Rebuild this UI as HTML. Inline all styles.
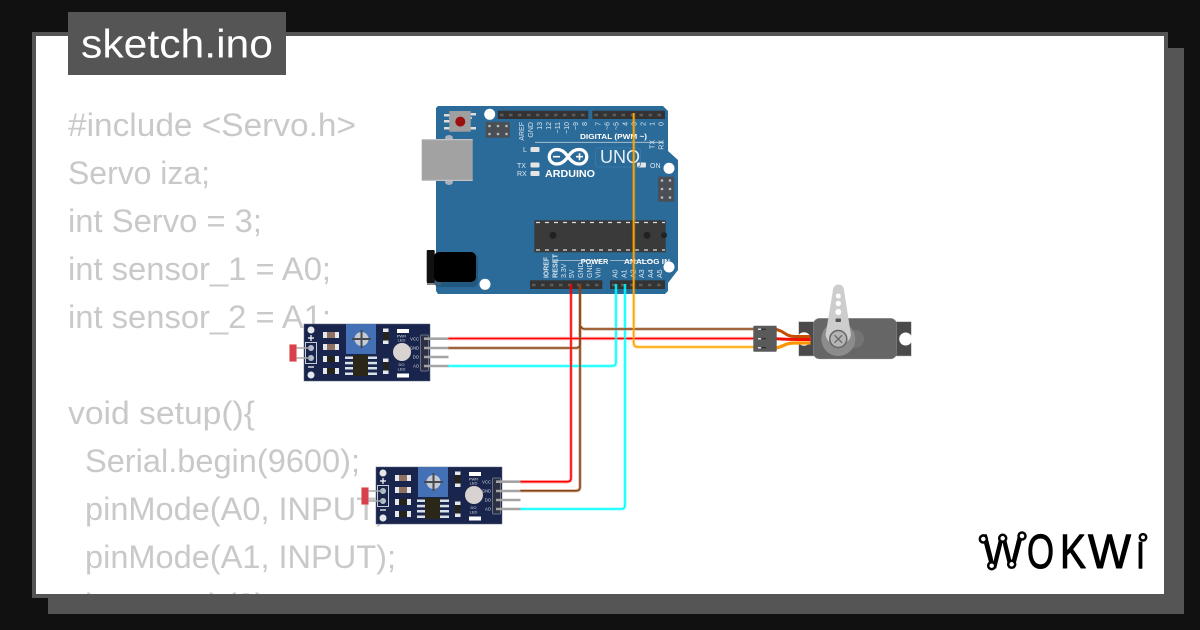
<!DOCTYPE html>
<html><head><meta charset="utf-8"><style>
html,body{margin:0;padding:0;background:#111;width:1200px;height:630px;overflow:hidden}
svg{display:block}
text{font-family:"Liberation Sans",sans-serif}
</style></head><body>
<svg width="1200" height="630" viewBox="0 0 1200 630" xmlns="http://www.w3.org/2000/svg">
<defs>
<clipPath id="pg"><rect x="36" y="36" width="1128" height="558"/></clipPath>
<g id="sensor">
 <rect x="304" y="324" width="126" height="57" fill="#19254c" stroke="#5a6480" stroke-width=".5"/>
 <circle cx="311" cy="330" r="3.500" fill="#e4e8ec"/><circle cx="311" cy="375" r="3.500" fill="#e4e8ec"/>
 <path d="M308 338h6M311 335v6M308 367h6" stroke="#fff" stroke-width="1.200"/>
 <rect x="305.500" y="342.500" width="11" height="21" fill="none" stroke="#c8ccd4" stroke-width="1"/>
 <circle cx="311" cy="348" r="3" fill="#b4c0cc"/><circle cx="311" cy="358" r="3" fill="#b4c0cc"/>
 <path d="M296 348h15M296 358h15" stroke="#a8a8a8" stroke-width="1.500"/>
 <rect x="289.500" y="344.500" width="7" height="17" fill="#d8404c" stroke="#e88" stroke-width=".4"/>
 <g fill="#e4e8ec"><rect x="323" y="332" width="16" height="6"/><rect x="323" y="344" width="16" height="6"/><rect x="323" y="356" width="16" height="6"/><rect x="323" y="368" width="16" height="6"/></g>
 <rect x="327" y="332" width="8" height="6" fill="#8f7262"/><rect x="327" y="344" width="8" height="6" fill="#8f7262"/>
 <rect x="327" y="356" width="8" height="6" fill="#26241a"/><rect x="327" y="368" width="8" height="6" fill="#26241a"/>
 <rect x="346" y="324" width="30" height="30" fill="#4470b6"/>
 <circle cx="361.500" cy="339" r="7" fill="#c4cad2"/>
 <path d="M352 339h19M361.500 330v18" stroke="#47494f" stroke-width="2"/>
 <g fill="#d8e0e8"><rect x="345" y="356.500" width="32" height="2.500"/><rect x="345" y="361.800" width="32" height="2.500"/><rect x="345" y="367" width="32" height="2.500"/><rect x="345" y="372.500" width="32" height="2.500"/></g>
 <rect x="353" y="355" width="15" height="21" fill="#2a2618"/>
 <rect x="383" y="328.500" width="5.500" height="15.500" fill="#e4e8ec"/><rect x="383" y="332" width="5.500" height="8.500" fill="#26241a"/>
 <rect x="383" y="358.500" width="5.500" height="15.500" fill="#e4e8ec"/><rect x="383" y="362" width="5.500" height="8.500" fill="#26241a"/>
 <rect x="397" y="329" width="12" height="4" fill="#fff"/><rect x="397" y="373.500" width="12" height="4" fill="#fff"/>
 <circle cx="402" cy="352" r="9" fill="#d8d2d0"/>
 <rect x="420.500" y="335" width="8" height="36" rx="1" fill="#2c3040" stroke="#68708a" stroke-width="1"/>
 <path d="M424 338.700h24.500M424 348h24.500M424 357h24.500M424 366h24.500" stroke="#a4a4a4" stroke-width="2.600"/>
</g>
</defs>

<rect x="48" y="48" width="1136" height="566" fill="#555"/>
<rect x="34" y="34" width="1132" height="562" fill="#fff" stroke="#555" stroke-width="4"/>

<g clip-path="url(#pg)" font-size="32" fill="#c9c9c9">
<text x="68" y="136" textLength="288" lengthAdjust="spacingAndGlyphs">#include &lt;Servo.h&gt;</text>
<text x="68" y="184" textLength="142" lengthAdjust="spacingAndGlyphs">Servo iza;</text>
<text x="68" y="232" textLength="194" lengthAdjust="spacingAndGlyphs">int Servo = 3;</text>
<text x="68" y="280" textLength="263" lengthAdjust="spacingAndGlyphs">int sensor_1 = A0;</text>
<text x="68" y="328" textLength="263" lengthAdjust="spacingAndGlyphs">int sensor_2 = A1;</text>
<text x="68" y="424" textLength="187" lengthAdjust="spacingAndGlyphs">void setup(){</text>
<text x="85" y="472" textLength="275" lengthAdjust="spacingAndGlyphs">Serial.begin(9600);</text>
<text x="85" y="520" textLength="311" lengthAdjust="spacingAndGlyphs">pinMode(A0, INPUT);</text>
<text x="85" y="568" textLength="311" lengthAdjust="spacingAndGlyphs">pinMode(A1, INPUT);</text>
<text x="85" y="616" textLength="190" lengthAdjust="spacingAndGlyphs">iza.attach(3);</text>
</g>

<rect x="68" y="12" width="218" height="63" fill="#555"/>
<text x="81" y="57.500" font-size="40" fill="#fff" textLength="192" lengthAdjust="spacingAndGlyphs">sketch.ino</text>

<!-- Arduino -->
<path d="M438 106H663L668 111V151L678 160V270L668 283V291L665 294H438L436 291V108Z" fill="#2b6b99"/>
<rect x="449" y="117" width="23" height="2" fill="#ccc"/><rect x="444" y="114" width="6" height="2.500" fill="#ddd"/><rect x="444" y="120" width="6" height="2.500" fill="#ddd"/><rect x="444" y="127" width="6" height="2.500" fill="#ddd"/><rect x="470" y="113" width="6" height="2.500" fill="#ddd"/><rect x="470" y="127" width="6" height="2.500" fill="#ddd"/>
<rect x="449.300" y="111" width="21.400" height="20.700" fill="#9f9f9f"/>
<circle cx="460.300" cy="121.600" r="5" fill="#9b0f0f"/>
<circle cx="489.700" cy="114.300" r="5.500" fill="#fff"/><circle cx="485" cy="284.300" r="5.500" fill="#fff"/><circle cx="669" cy="168.300" r="5.500" fill="#fff"/><circle cx="669" cy="267" r="5.500" fill="#fff"/>
<rect x="485.700" y="122" width="24.300" height="15.700" fill="#4a4f55"/>
<g fill="#bbb"><circle cx="489.500" cy="126" r="1.300"/><circle cx="498" cy="126" r="1.300"/><circle cx="506.500" cy="126" r="1.300"/><circle cx="489.500" cy="134" r="1.300"/><circle cx="498" cy="134" r="1.300"/><circle cx="506.500" cy="134" r="1.300"/></g>
<rect x="658" y="176.700" width="16.300" height="25" fill="#4a4f55"/>
<g fill="#bbb"><circle cx="662" cy="180.500" r="1.300"/><circle cx="670" cy="180.500" r="1.300"/><circle cx="662" cy="189" r="1.300"/><circle cx="670" cy="189" r="1.300"/><circle cx="662" cy="197.500" r="1.300"/><circle cx="670" cy="197.500" r="1.300"/></g>
<g fill="#333"><rect x="497.700" y="110.700" width="90.600" height="8.300"/><rect x="592.300" y="110.700" width="72.700" height="8.300"/><rect x="530" y="280.300" width="72.300" height="8.700"/><rect x="610" y="280.300" width="55" height="8.700"/></g>
<g stroke="#5c5c5c" stroke-width="2.500" stroke-dasharray="3.500 5.500"><path d="M500 115H588M594.500 115H665M532 285H602M612 285H665"/></g>
<ellipse cx="449" cy="138" rx="4" ry="3" fill="#a8b2ba"/><ellipse cx="449" cy="182" rx="4" ry="3" fill="#a8b2ba"/>
<rect x="421.700" y="139" width="51" height="42" fill="#a2a2a2"/>
<rect x="421.700" y="139" width="51" height="1.200" fill="#c4c4c4"/><rect x="421.700" y="179.800" width="51" height="1.200" fill="#c4c4c4"/>
<rect x="427" y="280" width="14" height="5" fill="#888"/>
<rect x="434" y="254" width="44" height="33" rx="5" fill="#1f4f74" opacity=".7"/>
<rect x="426.700" y="250" width="8" height="33" rx="1" fill="#111"/>
<rect x="434" y="252" width="42" height="30" rx="5" fill="#000"/>
<rect x="534.300" y="220.300" width="131.400" height="32" fill="#3a3a3a"/>
<path d="M536 222.500H665M536 250H665" stroke="#ddd" stroke-width="1.300" stroke-dasharray="4 5"/>
<circle cx="553" cy="235.300" r="3.500" fill="#222"/><circle cx="647" cy="235.300" r="3.500" fill="#222"/><circle cx="664" cy="235.300" r="3" fill="#222"/>
<g fill="#e4e4e4"><rect x="530.500" y="147" width="9" height="5" rx="1"/><rect x="530.500" y="162.500" width="9" height="5" rx="1"/><rect x="530.500" y="171" width="9" height="5" rx="1"/><rect x="637" y="162.500" width="9" height="5" rx="1"/></g>
<g fill="#dfe8ee" font-size="7">
<text x="523" y="152">L</text><text x="517" y="168">TX</text><text x="517" y="176">RX</text><text x="650" y="168">ON</text>
</g>
<path d="M535 142.300H664M553 260.500H601M610 260.500H652" stroke="#b8ccd8" stroke-width=".8" fill="none"/>
<path d="M568 156.700C564 151 561 149.500 556.500 149.500A7.250 7.250 0 0 0 556.500 164C561 164 564 162 568 156.700C572 151 575 149.500 579.500 149.500A7.250 7.250 0 0 1 579.500 164C575 164 572 162 568 156.700Z" fill="none" stroke="#fff" stroke-width="3.300"/>
<path d="M553 156.700h7M576 156.700h7M579.500 153.200v7" stroke="#fff" stroke-width="1.600"/>
<text x="545" y="177" font-size="10.500" font-weight="bold" fill="#fff" textLength="50" lengthAdjust="spacingAndGlyphs">ARDUINO</text>
<rect x="595.500" y="148" width="45" height="19" rx="3" fill="none" stroke="#3d7cab" stroke-width=".8"/>
<text x="600" y="163" font-size="18" fill="#e6eef4" textLength="40">UNO</text>
<text x="580" y="139" font-size="7.500" font-weight="bold" fill="#fff" textLength="67" lengthAdjust="spacingAndGlyphs">DIGITAL (PWM ~)</text>
<text x="580.700" y="264" font-size="7.500" font-weight="bold" fill="#fff" textLength="27.600" lengthAdjust="spacingAndGlyphs">POWER</text>
<text x="624" y="264" font-size="7.500" font-weight="bold" fill="#fff" textLength="46" lengthAdjust="spacingAndGlyphs">ANALOG IN</text>
<g fill="#dbe6ee" font-size="7" text-anchor="end">
<text transform="translate(524,122) rotate(-90)">AREF</text><text transform="translate(533,122) rotate(-90)">GND</text><text transform="translate(542,122) rotate(-90)">13</text><text transform="translate(551,122) rotate(-90)">12</text><text transform="translate(560,122) rotate(-90)">~11</text><text transform="translate(569,122) rotate(-90)">~10</text><text transform="translate(578,122) rotate(-90)">~9</text><text transform="translate(587,122) rotate(-90)">8</text>
<text transform="translate(600.500,122) rotate(-90)">7</text><text transform="translate(609.500,122) rotate(-90)">~6</text><text transform="translate(618.500,122) rotate(-90)">~5</text><text transform="translate(627.500,122) rotate(-90)">4</text><text transform="translate(636.500,122) rotate(-90)">~3</text><text transform="translate(645.500,122) rotate(-90)">2</text><text transform="translate(654.500,122) rotate(-90)">1</text><text transform="translate(663.500,122) rotate(-90)">0</text>
<text transform="translate(654.500,140) rotate(-90)">TX</text><text transform="translate(663.500,140) rotate(-90)">RX</text>
</g>
<g fill="#dbe6ee" font-size="7">
<text transform="translate(548.500,278) rotate(-90)" font-weight="bold" textLength="21" lengthAdjust="spacingAndGlyphs">IOREF</text><text transform="translate(557.500,278) rotate(-90)" font-weight="bold" textLength="24" lengthAdjust="spacingAndGlyphs">RESET</text><text transform="translate(566,278) rotate(-90)">3.3V</text><text transform="translate(574,278) rotate(-90)">5V</text><text transform="translate(583,278) rotate(-90)">GND</text><text transform="translate(592,278) rotate(-90)">GND</text><text transform="translate(600.500,278) rotate(-90)">VIn</text>
<text transform="translate(617.500,278) rotate(-90)">A0</text><text transform="translate(626.500,278) rotate(-90)">A1</text><text transform="translate(635.500,278) rotate(-90)">A2</text><text transform="translate(644,278) rotate(-90)">A3</text><text transform="translate(653,278) rotate(-90)">A4</text><text transform="translate(662,278) rotate(-90)">A5</text>
</g>

<!-- Servo -->
<rect x="798.700" y="321.700" width="112.600" height="34.300" fill="#4a4a4a" stroke="#bbb" stroke-width=".5"/>
<circle cx="804" cy="339" r="6.700" fill="#fff"/>
<circle cx="905.700" cy="339" r="6.500" fill="#fff"/><rect x="905.700" y="336" width="6.300" height="6" fill="#fff"/>
<rect x="813.300" y="318.300" width="83.400" height="40.700" rx="6" fill="#666" stroke="#aaa" stroke-width=".3"/>
<circle cx="855" cy="339" r="9" fill="#747474"/>
<circle cx="838.300" cy="339" r="17" fill="#8c8c8c"/>
<path d="M833 290A5.500 5.500 0 0 1 844 290L851 335A13 13 0 0 1 825.500 335Z" fill="#cdcdcd"/>
<g fill="#fff"><circle cx="838.300" cy="296" r="2.500"/><circle cx="838.300" cy="303.500" r="2.700"/><circle cx="838.300" cy="312" r="3"/></g>
<rect x="835.500" y="318.500" width="5.500" height="3.500" rx="1" fill="#555"/>
<circle cx="838.300" cy="339" r="8.500" fill="#b4b4b4" stroke="#666" stroke-width="1.500"/>
<path d="M834.500 335.200l7.600 7.600M842.100 335.200l-7.600 7.600" stroke="#666" stroke-width="1.200"/>

<!-- Wires -->
<g fill="none" stroke-linejoin="round">
<g stroke-width="3.500" opacity=".3">
<path d="M448 348H576Q580 348 580 344V284" stroke="#8b4513"/>
<path d="M448 338.500H770" stroke="#f00"/>
<path d="M448 366H612Q616 366 616 362V284" stroke="#0ff"/>
<path d="M520 481.700H567Q571 481.700 571 478V284" stroke="#f00"/>
<path d="M520 490.800H576Q580 490.800 580 487V284" stroke="#8b4513"/>
<path d="M520 509H621Q625 509 625 505V284" stroke="#0ff"/>
<path d="M581 326Q581 329 585 329H770" stroke="#8b4513"/>
<path d="M633.700 113V343Q633.700 347 638 347H770" stroke="#ffa500"/>
</g>
<g stroke-width="1.600">
<path d="M448 348H576Q580 348 580 344V284" stroke="#8b4513"/>
<path d="M448 338.500H770" stroke="#f00"/>
<path d="M448 366H612Q616 366 616 362V284" stroke="#0ff"/>
<path d="M520 481.700H567Q571 481.700 571 478V284" stroke="#f00"/>
<path d="M520 490.800H576Q580 490.800 580 487V284" stroke="#8b4513"/>
<path d="M520 509H621Q625 509 625 505V284" stroke="#0ff"/>
<path d="M581 326Q581 329 585 329H770" stroke="#8b4513"/>
<path d="M633.700 113V343Q633.700 347 638 347H770" stroke="#ffa500"/>
</g>
</g>

<!-- Servo cable -->
<path d="M776 329.500C785 331 785 336.500 795 336.500H810.500" fill="none" stroke="#c24f00" stroke-width="3"/>
<path d="M776 348C785 346 785 343 795 343H810.500" fill="none" stroke="#ff9400" stroke-width="3.300"/>
<path d="M776 338.700Q790 339.500 810.500 339.500" fill="none" stroke="#f01000" stroke-width="3"/>
<rect x="753.300" y="325.700" width="23.400" height="26" rx="1" fill="#5a5a5a"/>
<g fill="#ddd"><rect x="758" y="328.500" width="3.500" height="1.500"/><rect x="758" y="338" width="3.500" height="1.500"/><rect x="758" y="347" width="3.500" height="1.500"/></g>
<g stroke="#222" stroke-width="1"><path d="M761 329.300h5M761 338.800h5M761 347.800h5"/></g>

<!-- Sensors -->
<use href="#sensor"/>
<use href="#sensor" transform="translate(72,143)"/>
<g font-size="4" fill="#d5dce6" text-anchor="middle">
<text x="401.500" y="337.500">PWR</text><text x="401.500" y="341.500">LED</text><text x="401.500" y="366">DO</text><text x="401.500" y="370.500">LED</text>
<text x="473.500" y="480.500">PWR</text><text x="473.500" y="484.500">LED</text><text x="473.500" y="509">DO</text><text x="473.500" y="513.500">LED</text>
</g>
<g font-size="4.200" fill="#d5dce6" text-anchor="end">
<text x="419" y="340.300">VCC</text><text x="419" y="349.500">GND</text><text x="419" y="358.500">DO</text><text x="419" y="367.500">AO</text>
<text x="491" y="483.300">VCC</text><text x="491" y="492.500">GND</text><text x="491" y="501.500">DO</text><text x="491" y="510.500">AO</text>
</g>

<!-- Wokwi logo -->
<g fill="#000" font-size="48" stroke="#000" stroke-width="1" stroke-linejoin="round">
<text x="982" y="568" textLength="41" lengthAdjust="spacingAndGlyphs">W</text>
<text x="1027" y="568" textLength="27" lengthAdjust="spacingAndGlyphs">O</text>
<text x="1060" y="568" textLength="26" lengthAdjust="spacingAndGlyphs">K</text>
<text x="1088" y="568" textLength="43" lengthAdjust="spacingAndGlyphs">W</text>
<text x="1136" y="568" textLength="9" lengthAdjust="spacingAndGlyphs" stroke-width="1.500">ı</text>
</g>
<g fill="#fff" stroke="#000" stroke-width="2.500"><circle cx="983.300" cy="539" r="3.500"/><circle cx="1002.700" cy="538.300" r="3.500"/><circle cx="1022" cy="536" r="3.500"/><circle cx="991.700" cy="565.700" r="3.500"/><circle cx="1011.700" cy="564.300" r="3.500"/><circle cx="1143" cy="537.300" r="3.200"/></g>
</svg>
</body></html>
